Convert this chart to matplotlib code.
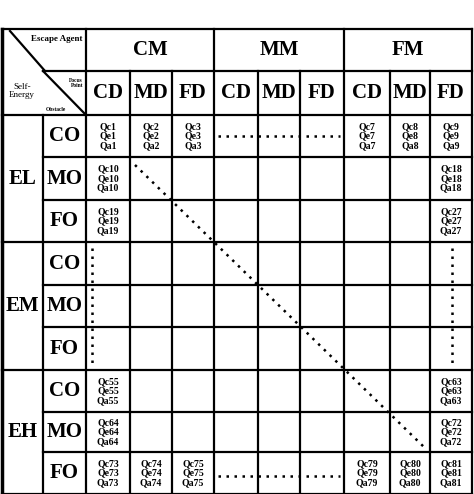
import matplotlib.pyplot as plt

agents = ["CM", "MM", "FM"]
focus = ["CD", "MD", "FD"]
energies = ["EL", "EM", "EH"]
obstacles = ["CO", "MO", "FO"]
# row/col indices of the 9x9 grid that hold Qc/Qe/Qa entries
filled_rows_full = [0, 8]          # all columns except the MM block
filled_cols_full = [0, 8]          # all rows except the EM block

# pixel boundaries of the table
col_x = [2, 43, 86, 130, 172, 214, 258, 300, 344, 390, 430, 472]
row_y = [29, 71, 115, 157, 200, 242, 285, 327, 370, 412, 452, 494]

W, H = 474, 494
fig = plt.figure(figsize=(W / 100, H / 100), dpi=100)
ax = fig.add_axes([0, 0, 1, 1])
ax.set_xlim(0, W)
ax.set_ylim(H, 0)
ax.axis("off")

serif = "Liberation Serif"
lw = 1.6

def line(x0, y0, x1, y1, **kw):
    ax.plot([x0, x1], [y0, y1], color="black", lw=kw.pop("lw", lw), **kw)

# outer frame
line(col_x[0], row_y[0], col_x[-1], row_y[0])
line(col_x[0], row_y[-1], col_x[-1], row_y[-1])
line(col_x[0], row_y[0], col_x[0], row_y[-1], lw=2.5)
line(col_x[-1], row_y[0], col_x[-1], row_y[-1])

# header lines
line(col_x[2], row_y[0], col_x[2], row_y[-1])
for k in (5, 8):
    line(col_x[k], row_y[0], col_x[k], row_y[-1])
line(col_x[1], row_y[1], col_x[-1], row_y[1])
line(col_x[0], row_y[2], col_x[-1], row_y[2])
for k in (3, 4, 6, 7, 9, 10):
    line(col_x[k], row_y[1], col_x[k], row_y[-1])
line(col_x[1], row_y[2], col_x[1], row_y[-1])
for k in (5, 8):
    line(col_x[0], row_y[k], col_x[-1], row_y[k])
for k in (3, 4, 6, 7, 9, 10):
    line(col_x[1], row_y[k], col_x[-1], row_y[k])

# header diagonals
line(col_x[0] + 8, row_y[0] + 2, col_x[1] + 2, row_y[1])
line(col_x[1], row_y[1], col_x[2], row_y[2])
ax.text(col_x[2] - 3, row_y[0] + 10, "Escape Agent", ha="right", va="center",
        family=serif, weight="bold", fontsize=6.5)
ax.text(col_x[0] + 20, row_y[1] + 20, "Self-\nEnergy", ha="center", va="center",
        family=serif, fontsize=6.5, linespacing=0.9)
ax.text(col_x[2] - 3, row_y[1] + 12, "Focus\nPoint", ha="right", va="center",
        family=serif, weight="bold", fontsize=4, linespacing=0.9)
ax.text(col_x[1] + 3, row_y[2] - 6, "Obstacle", ha="left", va="center",
        family=serif, weight="bold", fontsize=4)

# column headers
for i, a in enumerate(agents):
    xc = (col_x[2 + 3 * i] + col_x[5 + 3 * i]) / 2
    ax.text(xc, (row_y[0] + row_y[1]) / 2, a, ha="center", va="center",
            family=serif, weight="bold", fontsize=15)
    for j, f in enumerate(focus):
        k = 2 + 3 * i + j
        ax.text((col_x[k] + col_x[k + 1]) / 2, (row_y[1] + row_y[2]) / 2, f,
                ha="center", va="center", family=serif, weight="bold", fontsize=15)

# row headers
for i, e in enumerate(energies):
    yc = (row_y[2 + 3 * i] + row_y[5 + 3 * i]) / 2
    ax.text((col_x[0] + col_x[1]) / 2, yc, e, ha="center", va="center",
            family=serif, weight="bold", fontsize=15)
    for j, o in enumerate(obstacles):
        k = 2 + 3 * i + j
        ax.text((col_x[1] + col_x[2]) / 2, (row_y[k] + row_y[k + 1]) / 2, o,
                ha="center", va="center", family=serif, weight="bold", fontsize=15)

# cell entries
cells = set()
for r in filled_rows_full:
    for c in range(9):
        if c not in (3, 4, 5):
            cells.add((r, c))
for c in filled_cols_full:
    for r in range(9):
        if r not in (3, 4, 5):
            cells.add((r, c))
for r, c in sorted(cells):
    n = 9 * r + c + 1
    xc = (col_x[2 + c] + col_x[3 + c]) / 2
    y0, y1 = row_y[2 + r], row_y[3 + r]
    ax.text(xc, (y0 + y1) / 2, f"Qc{n}\nQe{n}\nQa{n}", ha="center", va="center",
            family=serif, weight="bold", fontsize=7, linespacing=1.1)

# dotted ellipsis lines
dot = dict(ls=(0, (1, 2.2)), lw=1.8)
line(135, 165, 425, 448, **dot)
line(218, 136, 340, 136, **dot)
line(218, 476, 340, 476, **dot)
line(92, 248, 92, 366, **dot)
line(452, 248, 452, 366, **dot)

fig.savefig("out.png", dpi=100, facecolor="white")
